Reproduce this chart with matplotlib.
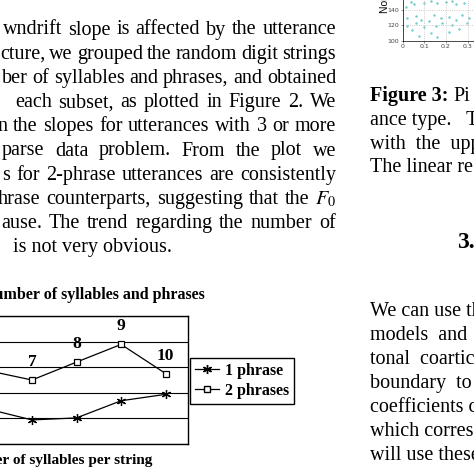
import numpy as np
import matplotlib.pyplot as plt
from matplotlib.lines import Line2D

# Datos de la figura (pendiente por numero de silabas y frases)
syllables = [6, 7, 8, 9, 10]
slope_1phrase = [1.37, 0.94, 1.02, 1.69, 1.94]
slope_2phrases = [2.87, 2.50, 3.20, 3.89, 2.75]
series_labels = ['1 phrase', '2 phrases']

# puntos del grafico de dispersion (figura 3, recortada)
sc_x = [0.015, 0.053, 0.099, 0.161, 0.199, 0.245, 0.283, 0.130, 0.230, 0.040,
        0.022, 0.061, 0.084, 0.122, 0.146, 0.176, 0.215, 0.245, 0.276, 0.307,
        0.022, 0.061, 0.099, 0.153, 0.184, 0.230, 0.261, 0.299,
        0.046, 0.130, 0.215, 0.077, 0.161]
sc_y = [144.2, 147.7, 149.6, 148.8, 150.7, 147.7, 149.6, 151.0, 151.5, 150.2,
        129.3, 131.9, 126.8, 126.0, 133.5, 129.2, 130.5, 126.8, 133.5, 129.2,
        119.3, 123.5, 117.6, 119.3, 122.7, 120.9, 115.9, 122.7,
        114.0, 109.7, 111.8, 106.4, 104.7]

left_lines = [
    "wndrift slope is affected by the utterance",
    "cture, we grouped the random digit strings",
    "ber of syllables and phrases, and obtained",
    "each subset, as plotted in Figure 2.  We",
    "n the slopes for utterances with 3 or more",
    "parse data problem.  From the plot we",
    "s for 2-phrase utterances are consistently",
    "hrase counterparts, suggesting that the $F_0$",
    "ause. The trend regarding the number of",
    "is not very obvious.",
]
left_x0 = [3, 0, 2, 15, -3, 2, 2, -2, 1, 13]

fig_lines = ["ance type.   T", "with  the  upp", "The linear re"]
sec_lines = ["We can use th", "models  and  c", "tonal  coartic", "boundary  to",
             "coefficients c", "which corres", "will use these"]

W = H = 474
plt.rcParams['mathtext.fontset'] = 'stix'
serif = 'Liberation Serif'
body = 14.5
fig = plt.figure(figsize=(4.74, 4.74), dpi=100)


def fx(x):
    return x / W


def fy(y):
    return 1 - y / H


# --- texto del articulo, columna izquierda (justificado) ---
fig.canvas.draw()
r = fig.canvas.get_renderer()
for i, line in enumerate(left_lines):
    yb = fy(34.5 + 24.2 * i)
    if i == len(left_lines) - 1:
        fig.text(fx(left_x0[i]), yb, line, family=serif, fontsize=body, va='baseline')
        continue
    words = line.split()
    objs = [fig.text(0, yb, w, family=serif, fontsize=body, va='baseline') for w in words]
    widths = [o.get_window_extent(r).width for o in objs]
    gap = (336 - left_x0[i] - sum(widths)) / (len(words) - 1)
    x = left_x0[i]
    for o, w in zip(objs, widths):
        o.set_x(fx(x))
        x += w + gap

# --- columna derecha ---
fig.text(fx(370), fy(101), "Figure 3:", family=serif, fontsize=body, weight='bold', va='baseline')
fig.text(fx(453), fy(101), "Pi", family=serif, fontsize=body, va='baseline')
for i, line in enumerate(fig_lines):
    fig.text(fx(370), fy(124.5 + 24 * i), line, family=serif, fontsize=body, va='baseline')
fig.text(fx(457), fy(248), "3.", family=serif, fontsize=17, weight='bold', va='baseline')
for i, line in enumerate(sec_lines):
    fig.text(fx(370), fy(316 + 24 * i), line, family=serif, fontsize=body, va='baseline')

# --- grafico de la figura 2 ---
ax = fig.add_axes([fx(-34.9), fy(444), 222.9 / W, 128 / H])
ax.plot(syllables, slope_1phrase, color='black', lw=0.9,
        marker=(6, 2, 0), markersize=6.5, markeredgewidth=0.9)
ax.plot(syllables, slope_2phrases, color='black', lw=0.9,
        marker='s', markersize=5, markerfacecolor='white', markeredgewidth=0.9)
for s, v in zip(syllables, slope_2phrases):
    ax.annotate(str(s), (s, v), xytext=(0, 13), textcoords='offset points',
                ha='center', va='center', family=serif, weight='bold', fontsize=12.5)
ax.set_xlim(5.5, 10.5)
ax.set_ylim(0, 5)
ax.set_yticks(range(6))
ax.set_xticks(syllables)
ax.grid(axis='y', color='black', lw=0.8)
ax.tick_params(length=0, labelleft=False, labelbottom=False)
for sp in ax.spines.values():
    sp.set_linewidth(1)
    sp.set_color('black')

fig.text(fx(205), fy(299), "Downdrift slope by number of syllables and phrases",
         ha='right', va='baseline', family=serif, weight='bold', fontsize=11.5)
fig.text(fx(152), fy(464), "Number of syllables per string",
         ha='right', va='baseline', family=serif, weight='bold', fontsize=11)

handles = [Line2D([], [], color='black', lw=0.9, marker=(6, 2, 0), markersize=6.5),
           Line2D([], [], color='black', lw=0.9, marker='s', markersize=5,
                  markerfacecolor='white')]
leg = fig.legend(handles, series_labels, loc='center',
                 bbox_to_anchor=(fx(242.3), fy(380.8)), fancybox=False,
                 edgecolor='black', framealpha=1, handlelength=1.5,
                 handletextpad=0.4, labelspacing=0.25, borderpad=0.3,
                 prop={'family': serif, 'weight': 'bold', 'size': 11.5})
leg.get_frame().set_linewidth(1)

# --- figura 3 recortada (arriba a la derecha) ---
ax2 = fig.add_axes([fx(402.5), fy(41), 100 / W, 84 / H])
ax2.scatter(sc_x, sc_y, s=3, color='#66cccc', lw=0)
ax2.set_xlim(0, 100 / 217)
ax2.set_ylim(100, 100 + 84 * 1.29)
ax2.set_xticks([0, 0.1, 0.2, 0.3])
ax2.set_xticklabels(['0', '0.1', '0.2', '0.3'])
ax2.set_yticks([100, 120, 140, 160, 180])
ax2.grid(color='#bbbbbb', ls=':', lw=0.6)
ax2.tick_params(labelsize=4.5, length=1.5, width=0.4, pad=1, colors='#444444')
for sp in ax2.spines.values():
    sp.set_linewidth(0.5)
fig.text(fx(385), fy(13), "Normalized F0", rotation=90, ha='center', va='bottom',
         fontsize=7.5, family='Liberation Sans')

fig.savefig('out.png', dpi=100)
